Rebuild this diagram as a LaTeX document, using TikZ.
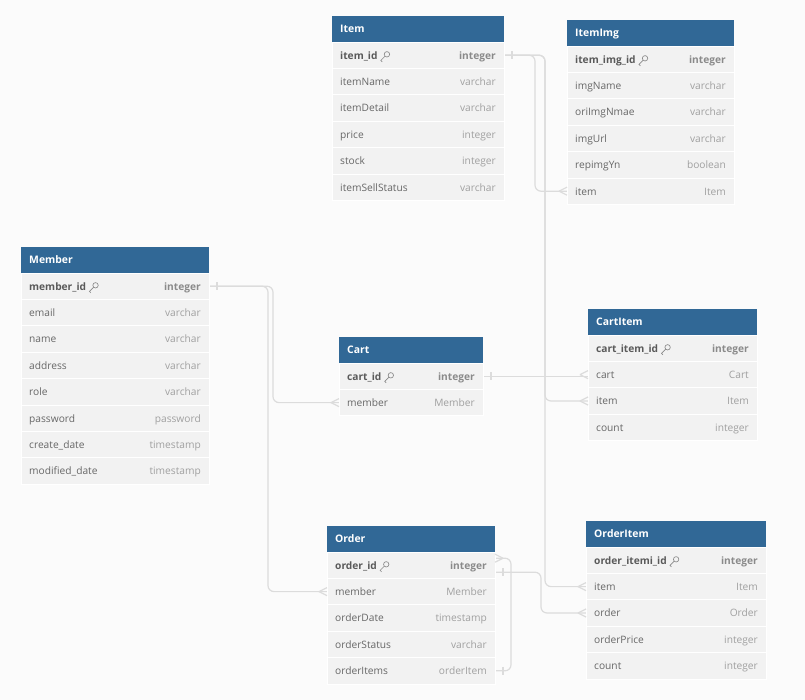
\documentclass[tikz,border=0pt]{standalone}
\usepackage{fontspec}
\setmainfont{Open Sans}
\usetikzlibrary{calc}
\pgfdeclarelayer{bglayer}
\pgfdeclarelayer{connlayer}
\pgfsetlayers{bglayer,connlayer,main}
\definecolor{hdrblue}{HTML}{316896}
\definecolor{rowbg}{HTML}{F2F2F2}
\definecolor{bgc}{HTML}{FBFBFB}
\definecolor{fieldc}{HTML}{676767}
\definecolor{pkc}{HTML}{5A5A5A}
\definecolor{typec}{HTML}{A0A0A0}
\definecolor{pktypec}{HTML}{8A8A8A}
\definecolor{connc}{HTML}{DCDCDC}
\tikzset{
  x=1pt, y=-1pt,
  hdr/.style={fill=hdrblue, draw=none, minimum height=26pt, inner sep=0pt, outer sep=0pt, anchor=north west},
  rowbox/.style={fill=rowbg, draw=white, line width=0.7pt, minimum height=26.4pt, inner sep=0pt, outer sep=0pt, anchor=north west},
  txtbase/.style={inner sep=0pt, text height=0.72em, text depth=0.2em, yshift=-1.3pt},
  hdrtxt/.style={txtbase, text=white, font=\fontsize{10.4}{12}\selectfont\bfseries, anchor=west},
  fieldtxt/.style={txtbase, text=fieldc, font=\fontsize{10.2}{12}\selectfont, anchor=west},
  typetxt/.style={txtbase, text=typec, font=\fontsize{10.2}{12}\selectfont, anchor=east},
  pkfield/.style={txtbase, text=pkc, font=\fontsize{10.2}{12}\selectfont\bfseries, anchor=west},
  pktype/.style={txtbase, text=pktypec, font=\fontsize{10.2}{12}\selectfont\bfseries, anchor=east},
  conn/.style={draw=connc, line width=1.2pt, rounded corners=6pt},
  connmark/.style={draw=connc, line width=1.2pt},
  keyc/.style={draw=pktypec, line width=0.65pt},
}
\newcommand\ertable[8]{%
  % #1 id, #2 x, #3 y, #4 width, #5 title, #6 pk name, #7 pk type, #8 other rows
  \node[hdr, minimum width=#4pt] (#1-h) at (#2,#3) {};
  \node[hdrtxt] (#1-t) at ([xshift=8pt]#1-h.west) {#5};
  \node[rowbox, minimum width=#4pt] (#1-1) at (#1-h.south west) {};
  \node[pkfield] (#1-n1) at ([xshift=8pt]#1-1.west) {#6};
  \node[pktype] (#1-y1) at ([xshift=-8pt]#1-1.east) {#7};
  \foreach \fn/\ft [count=\i from 2] in {#8} {
    \pgfmathtruncatemacro\prev{\i-1}
    \node[rowbox, minimum width=#4pt] (#1-\i) at (#1-\prev.south west) {};
    \node[fieldtxt] (#1-n\i) at ([xshift=8pt]#1-\i.west) {\fn};
    \node[typetxt] (#1-y\i) at ([xshift=-8pt]#1-\i.east) {\ft};
  }
  \draw[keyc] ([xshift=9.2pt,yshift=2.2pt]#1-n1.east) circle (2.7pt);
  \draw[keyc] ([xshift=7.3pt,yshift=0.3pt]#1-n1.east) -- ++(-4.2,4.2) -- ++(1.4,1.4);
}
% one-side tick: #1 coordinate, #2 direction (+1 east side, -1 west side)
\newcommand\onetick[2]{\draw[connmark] ($(#1)+(#2*8,-4)$) -- ($(#1)+(#2*8,4)$);}
% many-side crow's foot
\newcommand\crowfoot[2]{\draw[connmark] ($(#1)+(#2*8,0)$) -- ($(#1)+(0,-4)$) ($(#1)+(#2*8,0)$) -- ($(#1)+(0,4)$);}

\begin{document}
\begin{tikzpicture}
\begin{pgfonlayer}{bglayer}
\fill[bgc] (0,0) rectangle (805,700);
\end{pgfonlayer}
\useasboundingbox (0,0) rectangle (805,700);

% ---------------- tables ----------------
\ertable{item}{332}{16}{172}{Item}{item\_id}{integer}{itemName/varchar, itemDetail/varchar, price/integer, stock/integer, itemSellStatus/varchar}
\ertable{itemimg}{567}{20}{167}{ItemImg}{item\_img\_id}{integer}{imgName/varchar, oriImgNmae/varchar, imgUrl/varchar, repimgYn/boolean, item/Item}
\ertable{member}{21}{247}{188}{Member}{member\_id}{integer}{email/varchar, name/varchar, address/varchar, role/varchar, password/password, create\_date/timestamp, modified\_date/timestamp}
\ertable{cart}{339}{337}{144}{Cart}{cart\_id}{integer}{member/Member}
\ertable{cartitem}{588}{309}{169}{CartItem}{cart\_item\_id}{integer}{cart/Cart, item/Item, count/integer}
\ertable{order}{327}{526}{168}{Order}{order\_id}{integer}{member/Member, orderDate/timestamp, orderStatus/varchar, orderItems/orderItem}
\ertable{orderitem}{586}{521}{180}{OrderItem}{order\_itemi\_id}{integer}{item/Item, order/Order, orderPrice/integer, count/integer}

% ---------------- connectors (beneath tables) ----------------
\coordinate (ordout) at ($(order-1.east)+(0,7)$);
\coordinate (ordin) at ($(order-1.east)+(0,-7)$);
\begin{pgfonlayer}{connlayer}
% Item -> ItemImg, CartItem, OrderItem
\draw[conn] (item-1.east) -- ++(31,0) |- (itemimg-6.west);
\draw[conn] (item-1.east) -- ++(41,0) |- (cartitem-3.west);
\draw[conn] (item-1.east) -- ++(41,0) |- (orderitem-2.west);
% Member -> Cart, Order
\draw[conn] (member-1.east) -- ++(64,0) |- (cart-2.west);
\draw[conn] (member-1.east) -- ++(59,0) |- (order-2.west);
% Cart -> CartItem
\draw[conn] (cart-1.east) -- (cart-1.east -| cartitem-2.west);
% Order -> OrderItem
\draw[conn] (ordout) -- ++(46,0) |- (orderitem-3.west);
% Order.orderItems -> Order.order_id
\draw[conn] (order-5.east) -- ++(16,0) |- (ordin);
\end{pgfonlayer}

% ---------------- relationship markers ----------------
\onetick{item-1.east}{1}
\onetick{member-1.east}{1}
\onetick{cart-1.east}{1}
\onetick{ordout}{1}
\onetick{order-5.east}{1}
\crowfoot{itemimg-6.west}{-1}
\crowfoot{cartitem-3.west}{-1}
\crowfoot{orderitem-2.west}{-1}
\crowfoot{cart-2.west}{-1}
\crowfoot{order-2.west}{-1}
\crowfoot{cartitem-2.west}{-1}
\crowfoot{orderitem-3.west}{-1}
\crowfoot{ordin}{1}
\end{tikzpicture}
\end{document}
